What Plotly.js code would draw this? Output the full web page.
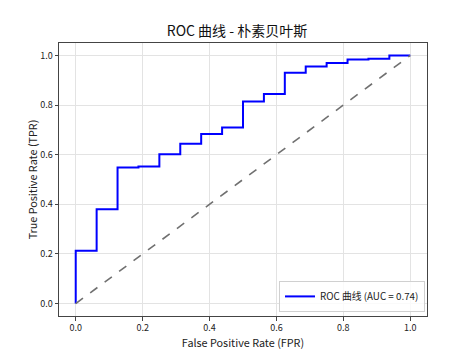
<!DOCTYPE html>
<html>
<head>
<meta charset="utf-8">
<script src="https://cdn.plot.ly/plotly-3.0.1.min.js"></script>
<style>html,body{margin:0;padding:0;background:#fff;}#chart{width:474px;height:355px;}</style>
</head>
<body>
<div id="chart"></div>
<script>
const fpr = [0, 0, 0.0625, 0.0625, 0.125, 0.125, 0.1875, 0.1875, 0.25, 0.25, 0.3125, 0.3125, 0.375, 0.375, 0.4375, 0.4375, 0.5, 0.5, 0.5625, 0.5625, 0.625, 0.625, 0.6875, 0.6875, 0.75, 0.75, 0.8125, 0.8125, 0.875, 0.875, 0.9375, 0.9375, 1];
const tpr = [0, 0.213, 0.213, 0.38, 0.38, 0.548, 0.548, 0.552, 0.552, 0.602, 0.602, 0.644, 0.644, 0.683, 0.683, 0.71, 0.71, 0.814, 0.814, 0.845, 0.845, 0.93, 0.93, 0.955, 0.955, 0.969, 0.969, 0.984, 0.984, 0.987, 0.987, 1, 1];
const diagX = [0, 1];
const diagY = [0, 1];
const aucLabel = 'ROC 曲线 (AUC = 0.74)';
const titleText = 'ROC 曲线 - 朴素贝叶斯';
const xTitle = 'False Positive Rate (FPR)';
const yTitle = 'True Positive Rate (TPR)';
const tickVals = [0, 0.2, 0.4, 0.6, 0.8, 1.0];
const tickText = ['0.0', '0.2', '0.4', '0.6', '0.8', '1.0'];

const FONT = '"Noto Sans CJK SC", "DejaVu Sans", sans-serif';

const traces = [
  {x: fpr, y: tpr, type: 'scatter', mode: 'lines', name: aucLabel,
   line: {color: '#0000ff', width: 2}},
  {x: diagX, y: diagY, type: 'scatter', mode: 'lines', showlegend: false,
   line: {color: '#707070', width: 1.6, dash: 'dash'}}
];

const axisCommon = {
  range: [-0.05, 1.05], tickvals: tickVals, ticktext: tickText,
  showgrid: true, gridcolor: '#e3e3e3', gridwidth: 1,
  zeroline: false, showline: true, mirror: true, linecolor: '#444', linewidth: 1,
  ticks: 'outside', ticklen: 3.5, tickcolor: '#444', tickwidth: 1,
  tickfont: {family: FONT, size: 9, color: '#222'}
};

const layout = {
  width: 474, height: 355,
  margin: {l: 59, r: 47, t: 43, b: 39, pad: 0},
  paper_bgcolor: '#fff', plot_bgcolor: '#fff',
  font: {family: FONT, color: '#222'},
  title: {text: titleText, font: {family: FONT, size: 14, color: '#111'},
          x: 0.5, xref: 'container', y: 0.912, yref: 'container', yanchor: 'middle'},
  xaxis: Object.assign({}, axisCommon, {title: {text: xTitle, font: {family: FONT, size: 10.8, color: '#222'}, standoff: 3}}),
  yaxis: Object.assign({}, axisCommon, {title: {text: yTitle, font: {family: FONT, size: 10.8, color: '#222'}, standoff: 0}}),
  legend: {x: 0.9946, xanchor: 'right', y: 0.015, yanchor: 'bottom',
           bgcolor: 'rgba(255,255,255,0.8)', bordercolor: '#d0d0d0', borderwidth: 1,
           font: {family: FONT, size: 9.8, color: '#222'}, itemwidth: 30},
  showlegend: true
};

Plotly.newPlot('chart', traces, layout, {displayModeBar: false, staticPlot: true});
</script>
</body>
</html>
